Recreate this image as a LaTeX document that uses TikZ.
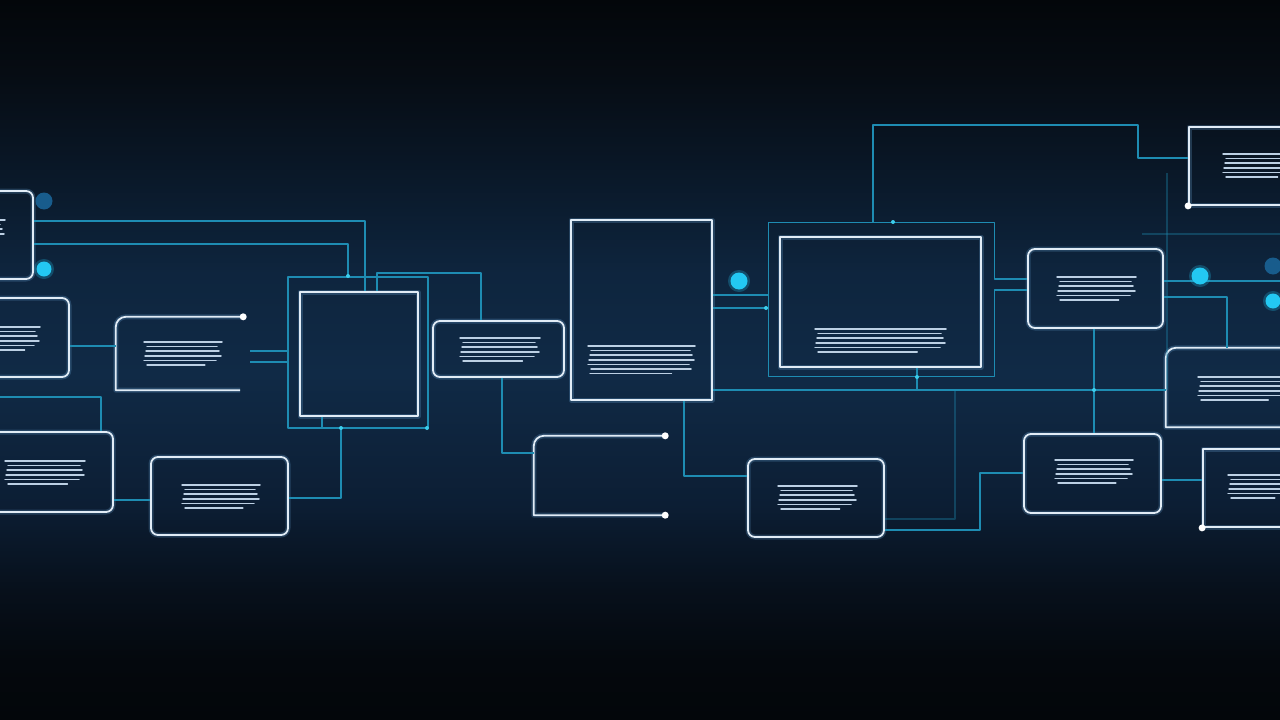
\documentclass[tikz,border=0pt]{standalone}
\usetikzlibrary{calc}
\definecolor{bgdark}{RGB}{3,6,10}
\definecolor{bgA}{RGB}{4,8,13}
\definecolor{bgB}{RGB}{7,16,27}
\definecolor{bgC}{RGB}{12,30,52}
\definecolor{bgmid}{RGB}{16,42,70}
\definecolor{bgD}{RGB}{14,37,62}
\definecolor{bgE}{RGB}{9,22,37}
\definecolor{bgF}{RGB}{6,12,19}
\definecolor{boxc}{RGB}{225,236,246}
\definecolor{glowc}{RGB}{110,170,220}
\definecolor{wirec}{RGB}{30,140,178}
\definecolor{txtc}{RGB}{188,208,228}
\definecolor{dotc}{RGB}{35,200,242}
\definecolor{dimc}{RGB}{24,92,140}
\definecolor{jc}{RGB}{60,205,235}
\pgfdeclareverticalshading{bgshade}{100bp}{color(0bp)=(bgdark); color(25bp)=(bgdark); color(29bp)=(bgA); color(34bp)=(bgB); color(40bp)=(bgC); color(49bp)=(bgmid); color(56bp)=(bgD); color(64bp)=(bgE); color(70bp)=(bgF); color(75bp)=(bgdark); color(100bp)=(bgdark)}
% placeholder text lines: [last index]{x}{y}{width}
\newcommand{\txtlines}[4][5]{%
  \foreach \i in {0,...,#1}{%
    \pgfmathsetmacro{\a}{mod(\i*3,4)}%
    \pgfmathsetmacro{\b}{\i==#1 ? 0.22*#4 : mod(\i*5,7)}%
    \draw[txt] (#2+\a,#3+\i*4.6) -- (#2+#4-\b,#3+\i*4.6);}}
\begin{document}
\begin{tikzpicture}[x=1pt,y=-1pt,line join=round,
    bline/.style={draw=boxc,line width=1.8pt,preaction={draw=glowc,line width=5pt,opacity=.25}},
    box/.style={bline,rounded corners=7pt,inner sep=0pt},
    sbox/.style={box,sharp corners},
    hole/.style={inner sep=0pt},
    dims/.style 2 args={minimum width=#1pt,minimum height=#2pt},
    frame/.style={draw=wirec,line width=1.2pt,inner sep=0pt},
    wire/.style={draw=wirec,line width=1.2pt},
    faint/.style={wire,opacity=.35},
    txt/.style={draw=txtc,line width=1.5pt,line cap=round},
    bdot/.style={circle,fill=dotc,inner sep=0pt,minimum size=15pt,draw=dotc,line width=5pt,draw opacity=.25},
    ddot/.style={circle,fill=dimc,inner sep=0pt,minimum size=17pt},
    jdot/.style={circle,fill=jc,inner sep=0pt,minimum size=4pt},
    wdot/.style={circle,fill=white,inner sep=0pt,minimum size=7pt}]
\useasboundingbox (0,0) rectangle (1280,720);
\shade[shading=bgshade] (0,0) rectangle (1280,720);
\clip (0,0) rectangle (1280,720);

% boxes
\node[box,dims={73}{88}] (A) at (-3.5,235) {};
\node[box,dims={109}{79}] (B) at (14.5,337.5) {};
\node[box,dims={153}{80}] (C) at (36.5,472) {};
\node[hole,dims={127}{73}] (D) at (179.5,353.5) {};
\node[box,dims={137}{78}] (E) at (219.5,496) {};
\node[frame,dims={140}{151}] (Ff) at (358,352.5) {};
\node[sbox,dims={118}{124}] (F) at (359,354) {};
\node[box,dims={131}{56}] (G) at (498.5,349) {};
\node[sbox,dims={141}{180}] (H) at (641.5,310) {};
\node[hole,dims={131}{79}] (I) at (599.5,475.5) {};
\node[box,dims={136}{78}] (J) at (816,498) {};
\node[hole,dims={226}{154}] (Kf) at (881.5,299.5) {};
\node[sbox,dims={201}{130}] (K) at (880.5,302) {};
\node[box,dims={135}{79}] (L) at (1095.5,288.5) {};
\node[sbox,dims={121}{78}] (M) at (1249.5,166) {};
\node[hole,dims={144}{79}] (N) at (1238,387.5) {};
\node[box,dims={137}{79}] (O) at (1092.5,473.5) {};
\node[sbox,dims={107}{78}] (P) at (1256.5,488) {};

% open outlines
\draw[bline] (D.north east) -- ([xshift=10pt]D.north west) arc[start angle=270,end angle=180,radius=10] -- (D.south west) -- ([xshift=-3pt]D.south east);
\draw[bline] (I.north east) -- ([xshift=10pt]I.north west) arc[start angle=270,end angle=180,radius=10] -- (I.south west) -- (I.south east);
\draw[bline] (N.north east) -- ([xshift=10pt]N.north west) arc[start angle=270,end angle=180,radius=10] -- (N.south west) -- (N.south east);

% connectors
\draw[wire] (A.east |- 0,221) -| (F.north -| 365,0);
\draw[wire] (A.east |- 0,244) -| (Ff.north -| 348,0);
\draw[wire] (B.east |- 0,346) -- (D.west |- 0,346);
\draw[wire] (250,351) -- (Ff.west |- 0,351);
\draw[wire] (250,362) -- (Ff.west |- 0,362);
\draw[wire] (0,397) -| (C.north -| 101,0);
\draw[wire] (C.east |- 0,500) -- (E.west |- 0,500);
\draw[wire] (Ff.south -| 341,0) |- (E.east |- 0,498);
\draw[wire] (F.south -| 322,0) -- (Ff.south -| 322,0);
\draw[wire] (F.north -| 377,0) |- (481,273) -- (G.north -| 481,0);
\draw[wire] (G.south -| 502,0) |- (I.west |- 0,453);
\draw[wire] (H.south -| 684,0) |- (J.west |- 0,476);
\draw[wire] (H.east |- 0,295) -- (Kf.west |- 0,295);
\draw[wire] (H.east |- 0,308) -- (Kf.west |- 0,308);
\draw[wire] (L.west |- 0,279) -| (Kf.north east) -- (Kf.north west) -- (Kf.south west) -- (Kf.south east) |- (L.west |- 0,290);
\draw[wire] (Kf.north -| 873,0) |- (1138,125) |- (M.west |- 0,158);
\draw[wire] (H.east |- 0,390) -- (N.west |- 0,390);
\draw[wire] (K.south -| 917,0) -- (917,390);
\draw[wire] (L.south -| 1094,0) -- (O.north -| 1094,0);
\draw[wire] (L.east |- 0,281) -- (1280,281);
\draw[wire] (L.east |- 0,297) -| (N.north -| 1227,0);
\draw[wire] (O.west |- 0,473) -- (980,473) |- (J.east |- 0,530);
\draw[faint] (J.east |- 0,519) -| (955,390);
\draw[wire] (O.east |- 0,480) -- (P.west |- 0,480);
\draw[faint] (1167,173) -- (1167,390);
\draw[faint] (1142,234) -- (1280,234);

% text lines
\txtlines{-40}{220}{45}
\txtlines{-30}{327}{70}
\txtlines{5}{461}{80}
\txtlines{144}{342}{78}
\txtlines{182}{485}{78}
\txtlines{460}{338}{80}
\txtlines[6]{588}{346}{107}
\txtlines{778}{486}{79}
\txtlines{815}{329}{131}
\txtlines{1057}{277}{79}
\txtlines{1223}{154}{70}
\txtlines{1198}{377}{90}
\txtlines{1055}{460}{78}
\txtlines{1228}{475}{60}

% dots
\node[ddot] (g1) at (44,201) {};
\node[bdot] (g2) at (44,269) {};
\node[bdot,minimum size=17pt] (g3) at (739,281) {};
\node[bdot,minimum size=17pt] (g4) at (1200,276) {};
\node[ddot] (g5) at (1273,266) {};
\node[bdot] (g6) at (1273,301) {};
\foreach \p/\q in {348/276,341/428,427/428,766/308,893/222,917/377,1094/390}
  \node[jdot] at (\p,\q) {};
\node[wdot] (w1) at (D.north east) {};
\node[wdot] (w2) at (I.north east) {};
\node[wdot] (w3) at (I.south east) {};
\node[wdot] (w4) at (M.south west) {};
\node[wdot] (w5) at (P.south west) {};
\end{tikzpicture}
\end{document}
